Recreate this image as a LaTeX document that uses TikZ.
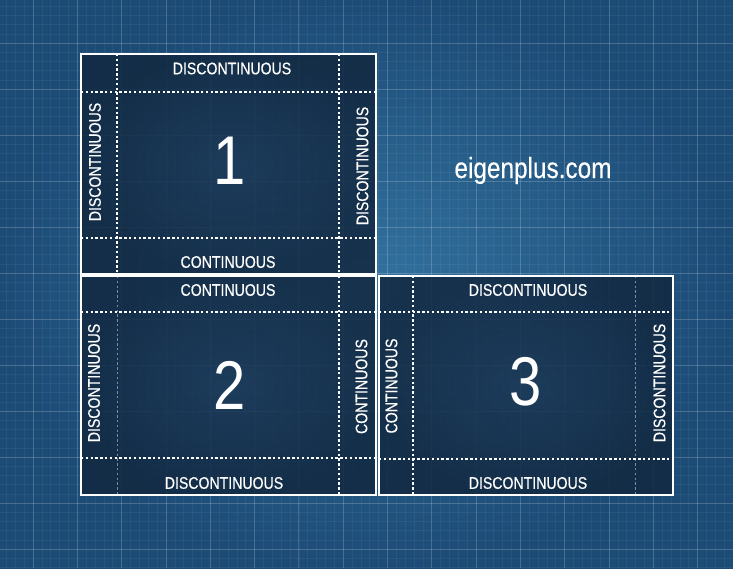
\documentclass[tikz,border=0pt]{standalone}
\usepackage{fontspec}
\setmainfont{Liberation Sans}[FakeStretch=0.84]
\newfontfamily\lblfont{Liberation Sans}[FakeStretch=0.84,FakeBold=0.35]
\definecolor{bgin}{HTML}{33729F}
\definecolor{bgout}{HTML}{1C4B76}
\definecolor{slabin}{HTML}{1B3754}
\definecolor{slabout}{HTML}{122840}
\begin{document}
\begin{tikzpicture}[x=1pt,y=-1pt,
  lbl/.style={text=white,font=\lblfont\fontsize{16.8}{18}\selectfont,inner sep=0pt},
  num/.style={text=white,font=\fontsize{69}{72}\selectfont,inner sep=0pt},
  web/.style={text=white,font=\lblfont\fontsize{29}{32}\selectfont,inner sep=0pt},
  slabfill/.style={inner color=slabin,outer color=slabout,fill opacity=0.86},
  slabedge/.style={draw=white,line width=2.6pt},
  divline/.style={white,line width=1.1pt,dash pattern=on 2.4pt off 2.4pt},
  dimline/.style={white,opacity=0.45,line width=0.9pt,dash pattern=on 2.4pt off 2.4pt},
  majorgrid/.style={white,opacity=0.15,line width=0.8pt},
  minorgrid/.style={white,opacity=0.05,line width=0.5pt}]
\useasboundingbox (0,0) rectangle (733,568);
% background
\shade[inner color=bgin,outer color=bgout] (0,0) rectangle (733,568);
\foreach \j in {-4,...,80}{\draw[minorgrid] ({33+8.86*\j},0) -- ({33+8.86*\j},568);}
\foreach \j in {-5,...,58}{\draw[minorgrid] (0,{43+9.2*\j}) -- (733,{43+9.2*\j});}
\foreach \i in {-1,...,16}{\draw[majorgrid] ({33+44.3*\i},0) -- ({33+44.3*\i},568);}
\foreach \i in {-1,...,12}{\draw[majorgrid] (0,{43+46*\i}) -- (733,{43+46*\i});}
% slab fills
\shade[slabfill] (81,54) rectangle (376,274.5);
\shade[slabfill] (81,275.5) rectangle (376,495);
\shade[slabfill] (379,275.5) rectangle (673,495);
% dividing lines slab 1
\draw[divline] (117,54) -- (117,274);
\draw[divline] (339,54) -- (339,274);
\draw[divline] (81,92) -- (376,92);
\draw[divline] (81,238) -- (376,238);
% slab 2
\draw[dimline] (117,276) -- (117,495);
\draw[divline] (339,276) -- (339,495);
\draw[divline] (81,312) -- (376,312);
\draw[divline] (81,458) -- (376,458);
% slab 3
\draw[divline] (413,276) -- (413,495);
\draw[dimline] (635,276) -- (635,495);
\draw[divline] (379,312) -- (673,312);
\draw[divline] (379,459) -- (673,459);
% borders
\draw[slabedge] (81,54) rectangle (376,274.5);
\draw[slabedge] (81,276) rectangle (376,495);
\draw[slabedge] (379,276) rectangle (673,495);
% slab 1 labels
\node[num] (n1) at (230,161) {1};
\node[lbl] (s1t) at (232,68.5) {DISCONTINUOUS};
\node[lbl] (s1b) at (228,262) {CONTINUOUS};
\node[lbl,rotate=90] (s1l) at (95,162) {DISCONTINUOUS};
\node[lbl,rotate=90] (s1r) at (362.5,166) {DISCONTINUOUS};
% slab 2 labels
\node[num] (n2) at (230,385) {2};
\node[lbl] (s2t) at (228,290) {CONTINUOUS};
\node[lbl] (s2b) at (224,483) {DISCONTINUOUS};
\node[lbl,rotate=90] (s2l) at (94,383) {DISCONTINUOUS};
\node[lbl,rotate=90] (s2r) at (361.5,386.5) {CONTINUOUS};
% slab 3 labels
\node[num] (n3) at (526,382) {3};
\node[lbl] (s3t) at (528,290) {DISCONTINUOUS};
\node[lbl] (s3b) at (528,483) {DISCONTINUOUS};
\node[lbl,rotate=90] (s3l) at (391.5,386) {CONTINUOUS};
\node[lbl,rotate=90] (s3r) at (659.5,383) {DISCONTINUOUS};
% website
\node[web,anchor=base] (web) at (533,178) {eigenplus.com};
\end{tikzpicture}
\end{document}
